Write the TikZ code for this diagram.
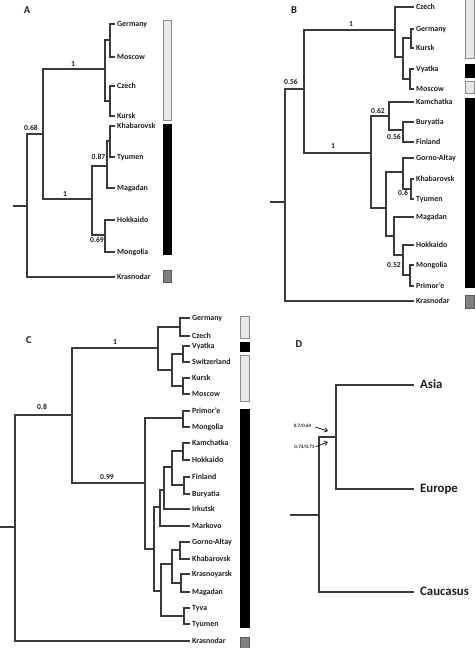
\documentclass[tikz,border=0pt]{standalone}
\usepackage{fontspec}
\setmainfont{Carlito}
\usetikzlibrary{arrows.meta}
\definecolor{linecol}{HTML}{3A3A3A}
\definecolor{textcol}{HTML}{1E1E1E}
\begin{document}
\begin{tikzpicture}[x=1pt,y=-1pt,
 br/.style={draw=linecol, line width=1.15pt},
 tip/.style={anchor=west, inner xsep=2pt, inner ysep=0pt, font=\bfseries\fontsize{7.9}{8}\selectfont, text height=5.5pt, text depth=1.5pt, text=textcol},
 sup/.style={inner sep=0pt, font=\bfseries\fontsize{7.6}{8}\selectfont, text=textcol},
 panel/.style={inner sep=0pt, font=\bfseries\fontsize{10.5}{11}\selectfont, text=textcol},
 big/.style={anchor=west, inner xsep=6pt, inner ysep=0pt, font=\bfseries\fontsize{12.8}{14}\selectfont, text height=9pt, text depth=2.5pt, text=textcol},
 small/.style={inner sep=0pt, font=\bfseries\fontsize{5}{5.5}\selectfont, text=textcol},
 arr/.style={draw=textcol, line width=0.8pt, -{Straight Barb[length=3pt,width=4.5pt]}},
 lgbar/.style={draw=black!45, fill=black!9, line width=0.6pt},
 bkbar/.style={fill=black, draw=black, line width=0.4pt},
 gybar/.style={draw=black!65, fill=black!50, line width=0.6pt}]
\useasboundingbox (0,0) rectangle (474,648);
\fill[white] (0,0) rectangle (474,648);

% ---------------- Panel A ----------------
\node[panel] (PA) at (27,10) {A};
\coordinate (Ast) at (13,206);
\coordinate (AR) at (27,206);
\coordinate (A1) at (43,134);
\coordinate (A2) at (105,69);
\coordinate (A3) at (110,40);
\coordinate (A4) at (110,101);
\coordinate (A5) at (92,199);
\coordinate (A6) at (107,166);
\coordinate (A7) at (110,141);
\coordinate (A8) at (105,235);
\node[tip] (Aa) at (115,24) {Germany};
\node[tip] (Ab) at (115,57) {Moscow};
\node[tip] (Ac) at (115,86) {Czech};
\node[tip] (Ad) at (115,116) {Kursk};
\node[tip] (Ae) at (115,126) {Khabarovsk};
\node[tip] (Af) at (115,157) {Tyumen};
\node[tip] (Ag) at (115,188) {Magadan};
\node[tip] (Ah) at (115,220) {Hokkaido};
\node[tip] (Ai) at (115,252) {Mongolia};
\node[tip] (Aj) at (115,277) {Krasnodar};
\draw[br] (Ast) -- (AR);
\foreach \p/\c in {AR/A1, A1/A2, A1/A5, A2/A3, A2/A4, A5/A6, A5/A8, A6/A7}
  \draw[br] (\p) |- (\c);
\foreach \p/\c in {AR/Aj, A3/Aa, A3/Ab, A4/Ac, A4/Ad, A7/Ae, A7/Af, A6/Ag, A8/Ah, A8/Ai}
  \draw[br] (\p) |- (\c.west);
\node[sup] (sA1) at (31,128) {0.68};
\node[sup] (sA2) at (73,64) {1};
\node[sup] (sA3) at (98.5,157) {0.87};
\node[sup] (sA4) at (65,194) {1};
\node[sup] (sA5) at (97,240) {0.69};
\draw[lgbar] (163,20) rectangle (171,120);
\draw[bkbar] (163,124) rectangle (171,254);
\draw[gybar] (163,270) rectangle (171,282);

% ---------------- Panel B ----------------
\node[panel] (PB) at (294,10) {B};
\coordinate (Bst) at (270,202);
\coordinate (BR) at (285,202);
\coordinate (B1) at (304,89);
\coordinate (B2) at (395,30);
\coordinate (B3) at (403,57);
\coordinate (B4) at (411,38);
\coordinate (B5) at (410,79);
\coordinate (B6) at (371,153);
\coordinate (B7) at (389,116);
\coordinate (B8) at (403,130);
\coordinate (B9) at (386,208);
\coordinate (B10) at (403,172);
\coordinate (B11) at (411,189);
\coordinate (B12) at (394,236);
\coordinate (B13) at (403,255);
\coordinate (B14) at (410,275);
\begin{scope}[every node/.append style={inner xsep=6pt}]
\node[tip] (Ba) at (414,7) {Czech};
\node[tip] (Bb) at (414,29) {Germany};
\node[tip] (Bc) at (414,48) {Kursk};
\node[tip] (Bd) at (414,69) {Vyatka};
\node[tip] (Be) at (414,89) {Moscow};
\node[tip] (Bf) at (414,102) {Kamchatka};
\node[tip] (Bg) at (414,122) {Buryatia};
\node[tip] (Bh) at (414,142) {Finland};
\node[tip] (Bi) at (414,158) {Gorno-Altay};
\node[tip] (Bj) at (414,179) {Khabarovsk};
\node[tip] (Bk) at (414,199) {Tyumen};
\node[tip] (Bl) at (414,217) {Magadan};
\node[tip] (Bm) at (414,245) {Hokkaido};
\node[tip] (Bn) at (414,265) {Mongolia};
\node[tip] (Bo) at (414,286) {Primor'e};
\node[tip] (Bp) at (414,301) {Krasnodar};
\end{scope}
\draw[br] (Bst) -- (BR);
\foreach \p/\c in {BR/B1, B1/B2, B1/B6, B2/B3, B3/B4, B3/B5, B6/B7, B6/B9, B7/B8, B9/B10, B9/B12, B10/B11, B12/B13, B13/B14}
  \draw[br] (\p) |- (\c);
\foreach \p/\c in {BR/Bp, B2/Ba, B4/Bb, B4/Bc, B5/Bd, B5/Be, B7/Bf, B8/Bg, B8/Bh, B10/Bi, B11/Bj, B11/Bk, B12/Bl, B13/Bm, B14/Bn, B14/Bo}
  \draw[br] (\p) |- (\c.west);
\node[sup] (sB1) at (351,24) {1};
\node[sup] (sB2) at (291,82) {0.56};
\node[sup] (sB3) at (333,146) {1};
\node[sup] (sB4) at (378,111) {0.62};
\node[sup] (sB5) at (394,137) {0.56};
\node[sup] (sB6) at (403,193) {0.6};
\node[sup] (sB7) at (394,265) {0.52};
\draw[lgbar] (465,-1) rectangle (474,58);
\draw[bkbar] (465,64) rectangle (474,77);
\draw[lgbar] (465,81) rectangle (474,93);
\draw[bkbar] (465,98) rectangle (474,287);
\draw[gybar] (465,295) rectangle (474,308);

% ---------------- Panel C ----------------
\node[panel] (PC) at (29,340) {C};
\coordinate (Cst) at (0,527);
\coordinate (CR) at (15,527);
\coordinate (C1) at (72,415);
\coordinate (C2) at (158,348);
\coordinate (C3) at (180,327);
\coordinate (C4) at (172,370);
\coordinate (C5) at (183,354);
\coordinate (C6) at (183,386);
\coordinate (C7) at (145,483);
\coordinate (C8) at (183,418);
\coordinate (C9) at (154,549);
\coordinate (C10) at (160,507);
\coordinate (C11) at (164,490);
\coordinate (C12) at (172,467);
\coordinate (C13) at (183,451);
\coordinate (C14) at (184,485);
\coordinate (C15) at (161,591);
\coordinate (C16) at (172,564);
\coordinate (C17) at (180,550);
\coordinate (C18) at (181,583);
\coordinate (C19) at (184,616);
\begin{scope}[every node/.append style={inner xsep=4pt}]
\node[tip] (Ca) at (190,318) {Germany};
\node[tip] (Cb) at (190,336) {Czech};
\node[tip] (Cc) at (190,346) {Vyatka};
\node[tip] (Cd) at (190,362) {Switzerland};
\node[tip] (Ce) at (190,378) {Kursk};
\node[tip] (Cf) at (190,394) {Moscow};
\node[tip] (Cg) at (190,411) {Primor'e};
\node[tip] (Ch) at (190,427) {Mongolia};
\node[tip] (Ci) at (190,443) {Kamchatka};
\node[tip] (Cj) at (190,460) {Hokkaido};
\node[tip] (Ck) at (190,477) {Finland};
\node[tip] (Cl) at (190,494) {Buryatia};
\node[tip] (Cm) at (190,509) {Irkutsk};
\node[tip] (Cn) at (190,526) {Markovo};
\node[tip] (Co) at (190,542) {Gorno-Altay};
\node[tip] (Cp) at (190,559) {Khabarovsk};
\node[tip] (Cq) at (190,574) {Krasnoyarsk};
\node[tip] (Cr) at (190,592) {Magadan};
\node[tip] (Cs) at (190,608) {Tyva};
\node[tip] (Ct) at (190,624) {Tyumen};
\node[tip] (Cu) at (190,641) {Krasnodar};
\end{scope}
\draw[br] (Cst) -- (CR);
\foreach \p/\c in {CR/C1, C1/C2, C1/C7, C2/C3, C2/C4, C4/C5, C4/C6, C7/C8, C7/C9, C9/C10, C9/C15, C10/C11, C11/C12, C12/C13, C12/C14, C15/C16, C15/C19, C16/C17, C16/C18}
  \draw[br] (\p) |- (\c);
\foreach \p/\c in {CR/Cu, C3/Ca, C3/Cb, C5/Cc, C5/Cd, C6/Ce, C6/Cf, C8/Cg, C8/Ch, C13/Ci, C13/Cj, C14/Ck, C14/Cl, C11/Cm, C10/Cn, C17/Co, C17/Cp, C18/Cq, C18/Cr, C19/Cs, C19/Ct}
  \draw[br] (\p) |- (\c.west);
\node[sup] (sC1) at (115,342) {1};
\node[sup] (sC2) at (42,407) {0.8};
\node[sup] (sC3) at (107,477) {0.99};
\draw[lgbar] (240,316) rectangle (249,338);
\draw[bkbar] (240,342) rectangle (249,351);
\draw[lgbar] (240,355) rectangle (249,401);
\draw[bkbar] (240,409) rectangle (249,627);
\draw[gybar] (240,637) rectangle (249,649);

% ---------------- Panel D ----------------
\node[panel] (PD) at (299,344) {D};
\coordinate (Dst) at (290,515);
\coordinate (DR) at (319,515);
\coordinate (D1) at (336,437);
\node[big] (Da) at (414,385) {Asia};
\node[big] (Db) at (414,489) {Europe};
\node[big] (Dc) at (414,592) {Caucasus};
\draw[br] (Dst) -- (DR);
\draw[br] (DR) |- (D1);
\foreach \p/\c in {DR/Dc, D1/Da, D1/Db}
  \draw[br] (\p) |- (\c.west);
\node[small] (l1) at (302.5,426) {0.7/0.64};
\node[small] (l2) at (304.5,447) {0.73/0.71};
\coordinate (a1) at (328,431);
\coordinate (a2) at (328,442);
\draw[arr, shorten <=4pt] (l1.east) -- (a1);
\draw[arr, shorten <=1pt] (l2.east) -- (a2);
\end{tikzpicture}
\end{document}
